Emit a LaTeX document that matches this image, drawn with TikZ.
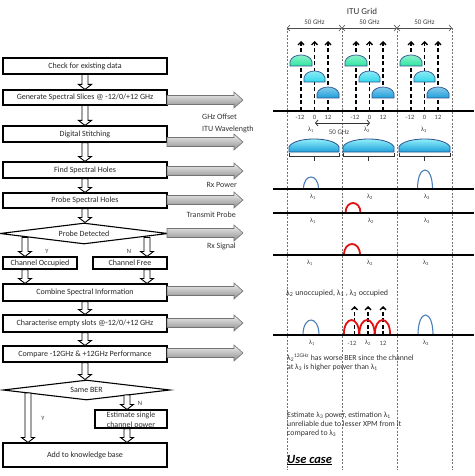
\documentclass[tikz,border=0pt]{standalone}
\usepackage{fontspec}
\setmainfont{Carlito}
\usetikzlibrary{arrows.meta,shapes.geometric,calc}
\definecolor{dgreen}{HTML}{2EE6A0}
\definecolor{dcyan}{HTML}{2FD8EC}
\definecolor{dblue}{HTML}{1E9FDB}
\definecolor{domeline}{HTML}{2F528F}
\definecolor{arcblue}{HTML}{4A7EBB}
\definecolor{arcred}{HTML}{E31010}
\newcommand\lam[1]{λ\textsubscript{#1}}
\newcommand\hdown[3]{\path[hollow] let \p1=(#2), \p2=(#3) in (#1pt-3pt,\y1) -- (#1pt-3pt,\y2+5pt) -- (#1pt-6.5pt,\y2+5pt) -- (#1pt,\y2) -- (#1pt+6.5pt,\y2+5pt) -- (#1pt+3pt,\y2+5pt) -- (#1pt+3pt,\y1) -- cycle;}
\newcommand\garr[2]{\path[grayarr] let \p1=(#1), \p2=(#2) in (\x1,\y1+4.5pt) -- (\x2-9pt,\y1+4.5pt) -- (\x2-9pt,\y1+8pt) -- (\x2,\y1) -- (\x2-9pt,\y1-8pt) -- (\x2-9pt,\y1-4.5pt) -- (\x1,\y1-4.5pt) -- cycle;}
\newcommand\dome[5]{\path[#5] (#1-#3,#2) -- (#1-#3,#2-0.4*#4) .. controls (#1-0.8*#3,#2-1.2*#4) and (#1+0.8*#3,#2-1.2*#4) .. (#1+#3,#2-0.4*#4) -- (#1+#3,#2) -- cycle;}
\newcommand\harc[5]{\draw[#5] (#1-#3,#2) .. controls (#1-#3,#2-1.333*#4) and (#1+#3,#2-1.333*#4) .. (#1+#3,#2);}
\tikzset{
  box/.style={draw=black, line width=1.1pt, fill=white, inner sep=0pt, text=black!85},
  dia/.style={diamond, aspect=8, draw=black, line width=1.1pt, fill=white, inner sep=0pt, text=black!85},
  hollow/.style={draw=black, line width=0.9pt, fill=white},
  grayarr/.style={draw=black!55, line width=0.6pt, top color=black!6, bottom color=black!45},
  lbl/.style={inner sep=0pt, text=black!80},
  small/.style={inner sep=0pt, text=black!75, font=\fontsize{6.5}{7}\selectfont},
  vline/.style={draw=black!55, line width=0.5pt, dash pattern=on 2pt off 1.5pt},
  hline/.style={draw=black, line width=1.3pt},
  dimarr/.style={draw=black!70, line width=0.6pt, {Straight Barb[length=2.5pt,width=6pt]}-{Straight Barb[length=2.5pt,width=6pt]}},
  dasharr/.style={draw=black, line width=1.3pt, dash pattern=on 4pt off 2.5pt, -{Straight Barb[length=3pt,width=6pt]}},
  gdome/.style={draw=domeline, line width=0.7pt, top color=dgreen!45!white, bottom color=dgreen},
  cdome/.style={draw=domeline, line width=0.7pt, top color=dcyan!45!white, bottom color=dcyan},
  bdomes/.style={draw=domeline, line width=0.7pt, top color=dblue!45!white, bottom color=dblue},
  bigdome/.style={draw=domeline, line width=0.8pt, top color=cyan!35!white, bottom color=dblue},
  brace/.style={draw=black!80, line width=0.7pt},
  barc/.style={draw=arcblue, line width=1.1pt},
  rarc/.style={draw=arcred, line width=1.8pt},
  rtext/.style={lbl, anchor=north west, align=left, font=\fontsize{7.8}{9}\selectfont},
}
\begin{document}
\begin{tikzpicture}[x=1pt,y=-1pt,font=\fontsize{8}{9}\selectfont]
\fill[white] (0,0) rectangle (474,476);
\useasboundingbox (0,0) rectangle (474,476);

% ---------------- left flowchart ----------------
\node[box, minimum width=164pt, minimum height=16pt] (b1) at (85,66) {Check for existing data};
\node[box, minimum width=164pt, minimum height=15pt] (b2) at (85,97.5) {Generate Spectral Slices @ -12/0/+12 GHz};
\node[box, minimum width=164pt, minimum height=16pt] (b3) at (85,134) {Digital Stitching};
\node[box, minimum width=164pt, minimum height=16pt] (b4) at (85,170) {Find Spectral Holes};
\node[box, minimum width=164pt, minimum height=15pt] (b5) at (85,200.5) {Probe Spectral Holes};
\node[dia, minimum width=168pt, minimum height=21pt] (d1) at (84,233.5) {Probe Detected};
\node[box, minimum width=74pt, minimum height=12pt] (co) at (40,263) {Channel Occupied};
\node[box, minimum width=74pt, minimum height=12pt] (cf) at (130,263) {Channel Free};
\node[box, minimum width=164pt, minimum height=17pt] (b6) at (85,292.5) {Combine Spectral Information};
\node[box, minimum width=164pt, minimum height=17pt] (b7) at (85,323.5) {Characterise empty slots @-12/0/+12 GHz};
\node[box, minimum width=164pt, minimum height=16pt] (b8) at (85,354) {Compare -12GHz \& +12GHz Performance};
\node[dia, minimum width=167pt, minimum height=20pt] (d2) at (86.5,390) {Same BER};
\node[box, minimum width=72pt, minimum height=18pt] (est) at (131,419) {};
\node[lbl, align=center, font=\fontsize{8}{10}\selectfont] (estt) at (131,420) {Estimate single\\channel power};
\node[box, minimum width=164pt, minimum height=24pt] (b9) at (85,455) {Add to knowledge base};

\hdown{85}{b1.south}{b2.north}
\hdown{85}{b2.south}{b3.north}
\hdown{85}{b3.south}{b4.north}
\hdown{85}{b4.south}{b5.north}
\hdown{85}{b5.south}{d1.north}
\hdown{25}{$(d1.center)+(0,4)$}{co.north}
\hdown{147}{$(d1.center)+(0,4)$}{cf.north}
\hdown{25}{co.south}{b6.north}
\hdown{147}{cf.south}{b6.north}
\hdown{85}{b6.south}{b7.north}
\hdown{85}{b7.south}{b8.north}
\hdown{85}{b8.south}{d2.north}
\hdown{28}{$(d2.center)+(0,3)$}{b9.north}
\hdown{127}{$(d2.center)+(0,5)$}{est.north}
\hdown{127}{est.south}{b9.north}

\node[small] (y1) at (47,251) {Y};
\node[small] (n1) at (129,251) {N};
\node[small] (y2) at (43,418) {Y};
\node[small] (n2) at (140,403) {N};

% gray arrows
\foreach \i/\y in {1/100,2/142,3/171,4/200,5/233,6/291,7/323,8/353}{
  \coordinate (ga\i) at (167,\y);
  \coordinate (gb\i) at (243,\y);
  \garr{ga\i}{gb\i}
}
\node[lbl, anchor=west] (l1) at (202,117) {GHz Offset};
\node[lbl, anchor=west] (l2) at (202,129) {ITU Wavelength};
\node[lbl, anchor=east] (l3) at (237,185) {Rx Power};
\node[lbl, anchor=east] (l4) at (236,215) {Transmit Probe};
\node[lbl, anchor=east] (l5) at (236,246) {Rx Signal};

% ---------------- right panel ----------------
\foreach \x [count=\i] in {287,342,397,452}{
  \coordinate (vt\i) at (\x,28);
  \coordinate (vb\i) at (\x,470);
  \draw[vline] (vt\i) -- (vb\i);
}
\node[lbl, font=\fontsize{9}{10}\selectfont] (itu) at (362,11) {ITU Grid};
\draw[dimarr] (vt1) -- (vt2);
\draw[dimarr] (vt2) -- (vt3);
\draw[dimarr] (vt3) -- (vt4);
\foreach \c in {314.5,369.5,424.5}{
  \node[small, font=\fontsize{7}{8}\selectfont] at (\c,22.5) {50 GHz};
}

% dashed arrows and domes
\foreach \c in {314.5,369.5,424.5}{
  \foreach \o in {-13.5,0,13.5}{
    \draw[dasharr] (\c+\o,111) -- (\c+\o,41);
  }
  \dome{\c-13.5}{66}{11}{11}{gdome}
  \dome{\c}{82}{10.5}{11}{cdome}
  \dome{\c+13.5}{98}{11}{11}{bdomes}
  \node[small] at (\c-14.5,117) {-12};
  \node[small] at (\c,117) {0};
  \node[small] at (\c+13.5,117) {12};
}
\draw[hline] (273,111) -- (474,111);

\coordinate (da) at (315,123);
\coordinate (db) at (370,123);
\draw[dimarr, draw=black!80, line width=0.8pt] (da) -- (db);
\node[small, font=\fontsize{7}{8}\selectfont] at (339,132) {50 GHz};
\node[small] at (311,130) {\lam{1}};
\node[small] at (367,130) {\lam{2}};
\node[small] at (424,130) {\lam{3}};

\dome{314}{152}{25}{13}{bigdome}
\dome{368.5}{152}{25.5}{13}{bigdome}
\dome{424.5}{152}{25.5}{13}{bigdome}
\draw[brace] (289,152.5) -- (289,156) -- (339,156) -- (339,152.5) (314,156) -- (314,160.5);
\draw[brace] (343,152.5) -- (343,156) -- (394,156) -- (394,152.5) (368.5,156) -- (368.5,160.5);
\draw[brace] (399,152.5) -- (399,156) -- (450,156) -- (450,152.5) (424.5,156) -- (424.5,160.5);

% Rx power
\harc{311}{189}{7.5}{12}{barc}
\harc{425}{189}{7.5}{19}{barc}
\draw[hline] (273,189) -- (474,189);
\node[small] at (313,197) {\lam{1}};
\node[small] at (370,197) {\lam{2}};
\node[small] at (427,197) {\lam{3}};

% transmit probe
\harc{353}{213}{7.5}{10}{rarc}
\draw[hline] (273,213) -- (474,213);
\node[small] at (313,221) {\lam{1}};
\node[small] at (371,221) {\lam{2}};
\node[small] at (427,221) {\lam{3}};

% rx signal
\harc{352}{255}{8}{11}{rarc}
\draw[hline] (273,255) -- (474,255);
\node[small] at (310,262.5) {\lam{1}};
\node[small] at (370,262.5) {\lam{2}};
\node[small] at (426,262.5) {\lam{3}};

% occupancy
\node[lbl, anchor=west, font=\fontsize{8}{9}\selectfont] (t1) at (286,293) {\lam{2} unoccupied, \lam{1} , \lam{3} occupied};
\foreach \x in {354.5,368,383}{
  \draw[dasharr] (\x,335) -- (\x,306);
}
\harc{351.5}{335}{7.7}{15}{rarc}
\harc{367}{335}{7.7}{15}{rarc}
\harc{382.5}{335}{7.7}{15}{rarc}
\harc{311}{335}{8}{15}{barc}
\harc{425.5}{335}{7.5}{20}{barc}
\draw[hline] (273,335) -- (474,335);
\node[small] at (312,343) {\lam{1}};
\node[small] at (352,343) {-12};
\node[small] at (368,343) {\lam{2}};
\node[small] at (383,343) {12};
\node[small] at (426,343) {\lam{3}};

\node[rtext] (t2) at (287,353.5) {\lam{2}\textsuperscript{12GHz} has worse BER since the channel\\at \lam{3} is higher power than \lam{1}};
\node[rtext] (t3) at (287,411.5) {Estimate \lam{3} power, estimation \lam{1}\\unreliable due to lesser XPM from it\\compared to \lam{3}};
\node[lbl, anchor=west, text=black, font=\fontsize{12.5}{14}\selectfont\bfseries\itshape] (uc) at (287,460) {\underline{Use case}};
\end{tikzpicture}
\end{document}
